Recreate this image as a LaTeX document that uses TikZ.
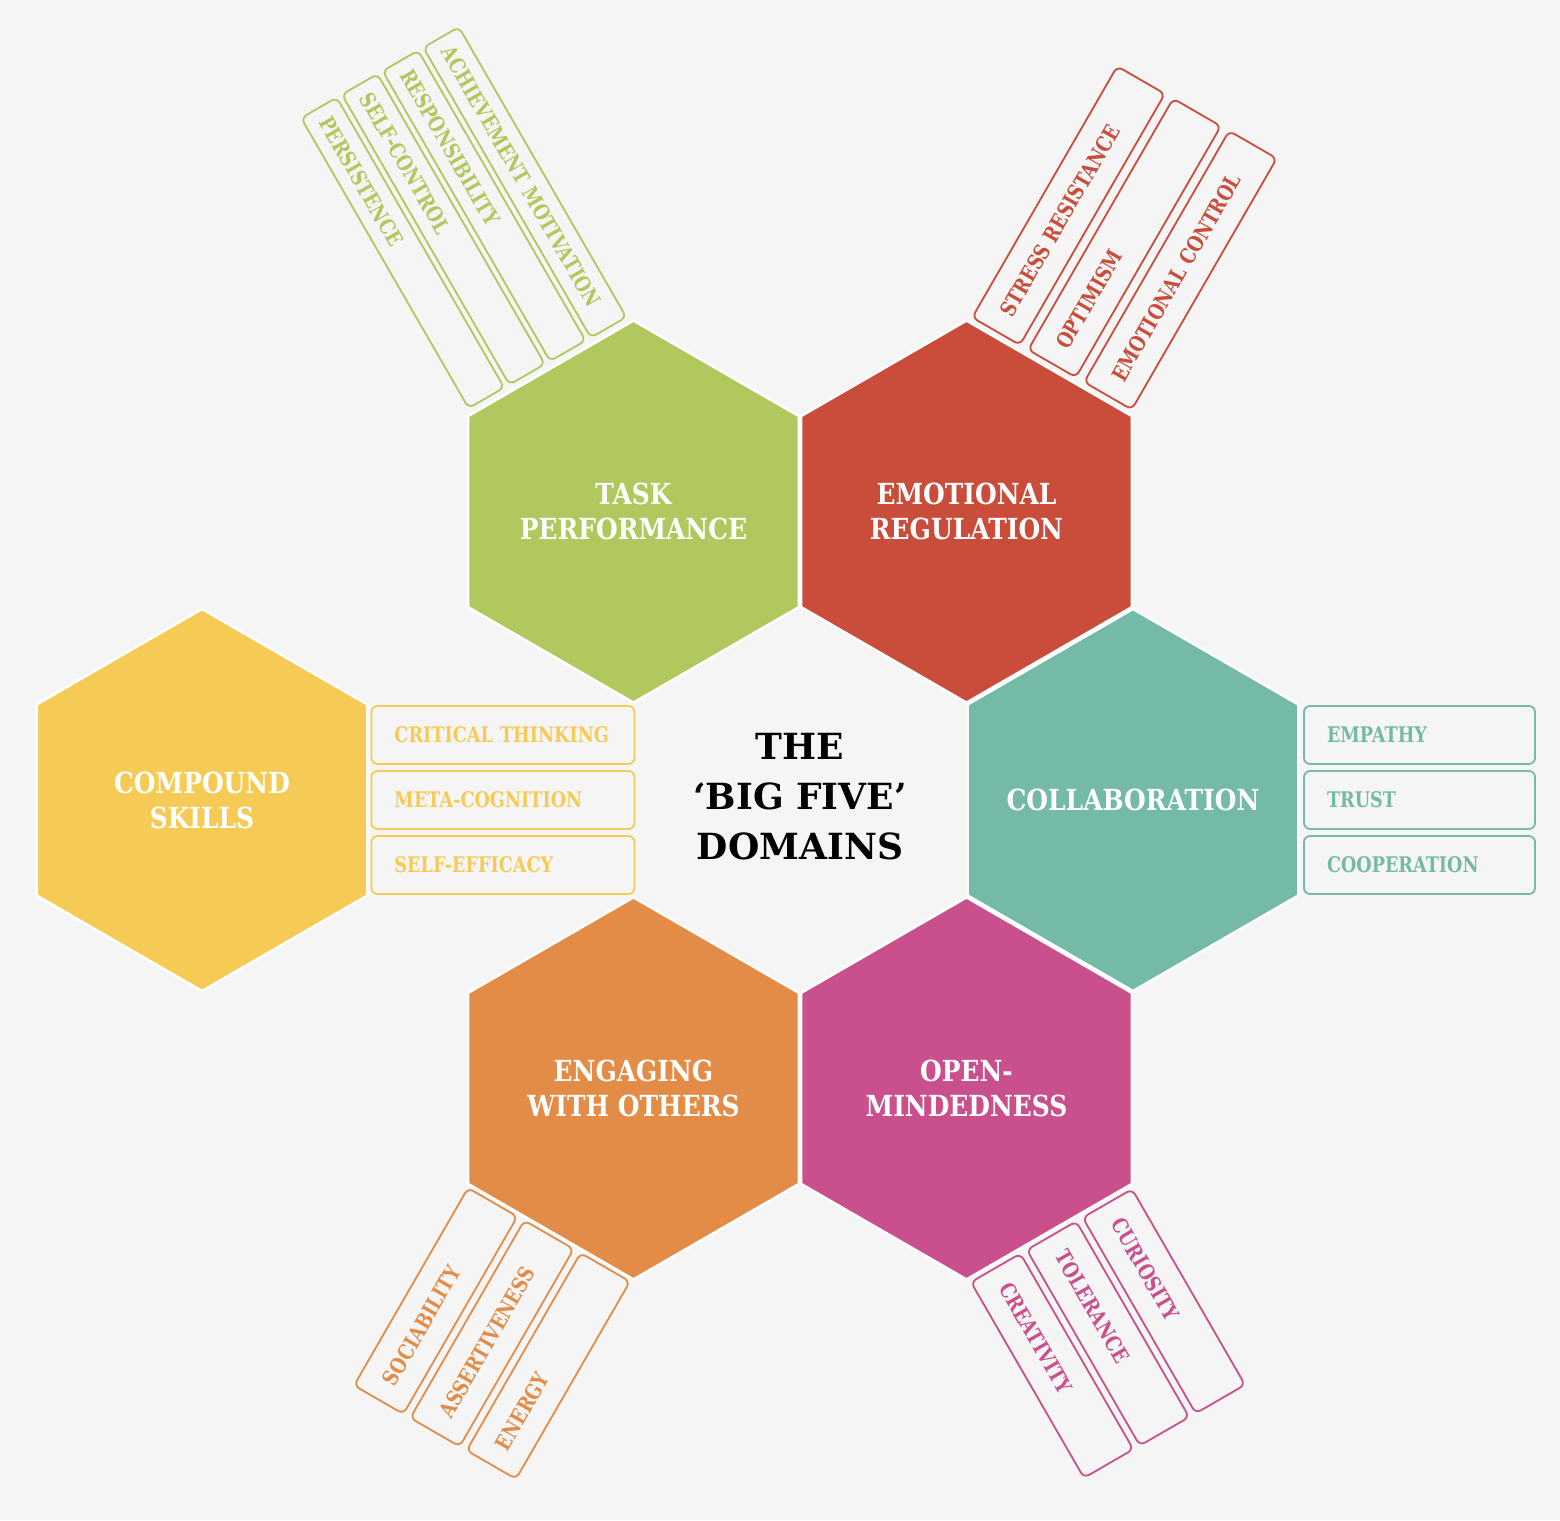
\documentclass[tikz,border=0pt]{standalone}
\usepackage{fontspec}
\setmainfont{DejaVu Serif}[FakeStretch=0.86]
\newfontfamily\tabfont{DejaVu Serif}[FakeStretch=0.82]
\newfontfamily\titlefont{DejaVu Serif}
\usepackage{tikz}
\usetikzlibrary{shapes.geometric, calc, positioning}

\definecolor{bggrey}{HTML}{F5F5F5}
\definecolor{taskgreen}{RGB}{177,200,94}
\definecolor{emored}{RGB}{201,77,58}
\definecolor{collabteal}{RGB}{117,185,167}
\definecolor{openpink}{RGB}{201,79,141}
\definecolor{engageorange}{RGB}{227,140,71}
\definecolor{compyellow}{RGB}{246,203,85}

\begin{document}
\begin{tikzpicture}[x=1pt, y=1pt,
    hexa/.style={regular polygon, regular polygon sides=6, shape border rotate=30,
      minimum size=382pt, inner sep=-30pt, fill=#1, draw=white, line width=2.5pt,
      text=white, align=center, font=\fontsize{29}{35}\selectfont\bfseries},
    trait/.style={draw=#1, text=#1, rounded corners=6pt, line width=1.8pt,
      inner ysep=0pt, align=left, font=\tabfont\fontsize{21.5}{26}\selectfont\bfseries,
      execute at begin node={\hyphenpenalty=10000\exhyphenpenalty=10000\relax}},
    slimtab/.style={text width=311pt, inner xsep=12pt, minimum height=41pt},
    redtab/.style={text width=252pt, inner xsep=19pt, minimum height=55pt},
    lowtab/.style={text width=#1, inner xsep=19pt, minimum height=57pt},
    sidetab/.style={text width=#1, inner xsep=23pt, minimum height=58pt}]
    \fill[bggrey, use as bounding box] (-800,-720) rectangle (760,800);

    % the six domains
    \node[hexa=taskgreen] (task) at (120:333) {TASK\\PERFORMANCE};
    \node[hexa=emored] (emotion) at (60:333) {EMOTIONAL\\REGULATION};
    \node[hexa=collabteal] (collab) at (0:333) {COLLABORATION};
    \node[hexa=openpink] (openmind) at (300:333) {OPEN-\\MINDEDNESS};
    \node[hexa=engageorange] (engage) at (240:333) {ENGAGING\\WITH OTHERS};
    \node[hexa=compyellow] (compound) at (-598,0) {COMPOUND\\SKILLS};

    \node[align=center, font=\titlefont\fontsize{36}{50}\selectfont\bfseries] (bigfive) at (0,3)
      {THE\\‘BIG FIVE’\\DOMAINS};

    % task performance
    \coordinate (gp) at ($(task.center)+(120:339.5)$);
    \node[trait=taskgreen, slimtab, rotate=-60] (persist) at ($(gp)+(210:70.5)$) {PERSISTENCE};
    \node[trait=taskgreen, slimtab, rotate=-60] (selfctrl) at ($(gp)+(210:23.5)$) {SELF-CONTROL};
    \node[trait=taskgreen, slimtab, rotate=-60] (respons) at ($(gp)+(30:23.5)$) {RESPONSIBILITY};
    \node[trait=taskgreen, slimtab, rotate=-60] (achieve) at ($(gp)+(30:70.5)$) {ACHIEVEMENT~MOTIVATION};

    % emotional regulation
    \coordinate (rp) at ($(emotion.center)+(60:316)$);
    \node[trait=emored, redtab, rotate=60] (stress) at ($(rp)+(150:64.6)$) {STRESS~RESISTANCE};
    \node[trait=emored, redtab, rotate=60] (optim) at (rp) {OPTIMISM};
    \node[trait=emored, redtab, rotate=60] (emoctrl) at ($(rp)+(330:64.6)$) {EMOTIONAL~CONTROL};

    % collaboration
    \node[trait=collabteal, sidetab=185pt] (empathy) at ($(collab.center)+(286.5,65)$) {EMPATHY};
    \node[trait=collabteal, sidetab=185pt] (trust) at ($(collab.center)+(286.5,0)$) {TRUST};
    \node[trait=collabteal, sidetab=185pt] (coop) at ($(collab.center)+(286.5,-65)$) {COOPERATION};

    % open-mindedness
    \coordinate (pp) at ($(openmind.center)+(300:283)$);
    \node[trait=openpink, lowtab=188pt, rotate=-60] (creat) at ($(pp)+(210:64.5)$) {CREATIVITY};
    \node[trait=openpink, lowtab=188pt, rotate=-60] (toler) at (pp) {TOLERANCE};
    \node[trait=openpink, lowtab=188pt, rotate=-60] (curios) at ($(pp)+(30:64.5)$) {CURIOSITY};

    % engaging with others
    \coordinate (op) at ($(engage.center)+(240:283)$);
    \node[trait=engageorange, lowtab=190pt, rotate=60] (sociab) at ($(op)+(150:65)$) {SOCIABILITY};
    \node[trait=engageorange, lowtab=190pt, rotate=60] (assert) at (op) {ASSERTIVENESS};
    \node[trait=engageorange, lowtab=190pt, rotate=60] (energy) at ($(op)+(330:65)$) {ENERGY};

    % compound skills
    \node[trait=compyellow, sidetab=217pt] (critical) at ($(compound.center)+(301,65)$) {CRITICAL~THINKING};
    \node[trait=compyellow, sidetab=217pt] (metacog) at ($(compound.center)+(301,0)$) {META-COGNITION};
    \node[trait=compyellow, sidetab=217pt] (selfeff) at ($(compound.center)+(301,-65)$) {SELF-EFFICACY};
  \end{tikzpicture}
\end{document}
